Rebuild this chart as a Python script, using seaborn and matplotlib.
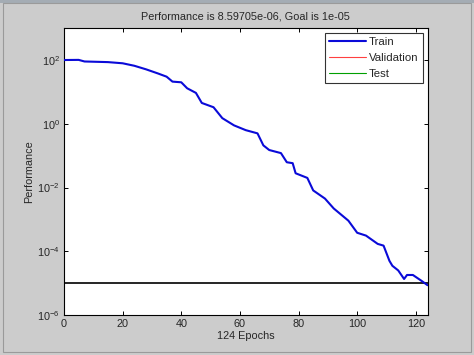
import matplotlib
matplotlib.use("Agg")
import matplotlib.pyplot as plt
import numpy as np
import pandas as pd
import seaborn as sns
from matplotlib.patches import Rectangle

# training record
epochs = [0, 5, 7, 15, 20, 24, 28, 32, 35, 37, 40, 42, 45, 47, 51, 54, 58, 62,
          66, 68, 70, 74, 76, 78, 79, 83, 85, 89, 92, 97, 100, 103, 107, 109,
          111, 112, 114, 116, 117, 119, 121, 122, 124]
train_perf = [100, 101, 90, 86, 79, 66, 51, 38, 30, 21, 20, 13, 9.3, 4.5, 3.3,
              1.5, 0.89, 0.63, 0.50, 0.21, 0.15, 0.12, 0.062, 0.058, 0.028,
              0.020, 0.0081, 0.0045, 0.0022, 9.1e-4, 3.8e-4, 3.1e-4, 1.7e-4,
              1.5e-4, 5.0e-5, 3.5e-5, 2.5e-5, 1.35e-5, 1.8e-5, 1.8e-5, 1.35e-5,
              1.17e-5, 8.59705e-6]
goal = 1e-05
best_perf = 8.59705e-06
n_epochs = 124

ytick_vals = [1e-6, 1e-4, 1e-2, 1e0, 1e2]
xtick_vals = [0, 20, 40, 60, 80, 100, 120]

BG = "#cccccc"

sns.set_theme(style="ticks")
plt.rcParams["font.family"] = ["Liberation Sans", "DejaVu Sans"]
plt.rcParams["mathtext.fontset"] = "custom"
plt.rcParams["mathtext.rm"] = "Liberation Sans"
plt.rcParams["mathtext.it"] = "Liberation Sans"

df = pd.DataFrame({"epoch": epochs, "perf": train_perf})

fig = plt.figure(figsize=(4.74, 3.55), dpi=100, facecolor=BG)
ax = fig.add_axes([0.135, 0.1127, 0.767, 0.808])
ax.set_facecolor("white")

# window frame
fig.patches.append(Rectangle((0, 0.992), 1, 0.008, transform=fig.transFigure,
                             facecolor="#a4acb4", edgecolor="none", zorder=0))
fig.patches.append(Rectangle((0.006, 0.008), 0.988, 0.984, transform=fig.transFigure,
                             facecolor="none", edgecolor="#9a9a9a", lw=0.8, zorder=0))

sns.lineplot(data=df, x="epoch", y="perf", ax=ax, color="#0a0ad8", lw=1.5,
             label="Train", zorder=3)
ax.plot([], [], color="#ff4040", lw=0.8, label="Validation")
ax.plot([], [], color="#00a000", lw=0.8, label="Test")
ax.axhline(goal, color="black", lw=1.2, zorder=2)

ax.set_yscale("log")
ax.set_xlim(0, n_epochs)
ax.set_ylim(1e-6, 1e3)
ax.set_xticks(xtick_vals)
ax.set_yticks(ytick_vals)
ax.yaxis.set_minor_locator(matplotlib.ticker.NullLocator())
ax.tick_params(direction="in", top=True, right=True, length=3, width=0.7,
               labelsize=7.8, pad=3, colors="black", labelcolor="#262626")
for s in ax.spines.values():
    s.set_color("black")
    s.set_linewidth(0.8)

ax.set_xlabel(f"{n_epochs} Epochs", fontsize=7.8, labelpad=1, color="#262626")
ax.set_ylabel("Performance", fontsize=7.8, labelpad=2, color="#262626")
ax.set_title(f"Performance is {best_perf:g}, Goal is {goal:g}", fontsize=7.8,
             pad=6, color="#262626")

leg = ax.legend(loc="upper right", fontsize=8.2, frameon=True, fancybox=False,
                borderaxespad=0.4, handlelength=3.2, handletextpad=0.3,
                labelspacing=0.5, borderpad=0.4)
leg.get_frame().set_edgecolor("black")
leg.get_frame().set_linewidth(0.8)
for t in leg.get_texts():
    t.set_color("#262626")

fig.savefig("out.png", dpi=100, facecolor=BG)
